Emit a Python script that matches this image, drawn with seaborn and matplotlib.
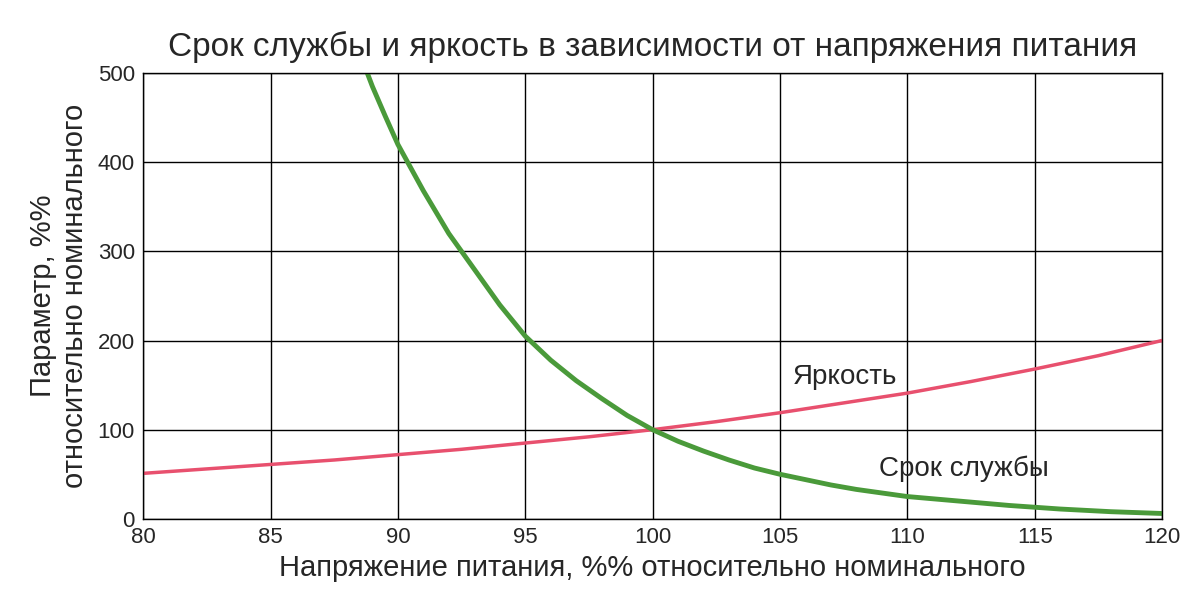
import matplotlib
matplotlib.use("Agg")
import matplotlib.pyplot as plt
import seaborn as sns

# Brightness vs supply voltage
bright_v = [80, 82.5, 85, 87.5, 90, 92.5, 95, 97.5, 100, 102.5, 105, 107.5, 110, 112.5, 115, 117.5, 120]
bright_p = [51, 56, 61, 66, 72, 78, 85, 92, 100, 109, 119, 130, 141, 154, 168, 183, 200]

# Service life vs supply voltage
life_v = [88.8, 89, 89.5, 90, 90.5, 91, 91.5, 92, 92.5, 93, 94, 95, 96, 97, 98, 99, 100, 101, 102, 103, 104, 105,
          106, 107, 108, 109, 110, 112, 114, 116, 118, 120]
life_p = [500, 485, 452, 420, 394, 368, 344, 320, 300, 280, 240, 205, 178, 155, 135, 116, 100, 87, 76, 66, 57, 50,
          44, 38, 33, 29, 25, 20, 15, 11, 8, 6]

sns.set_style("white")
plt.rcParams['font.family'] = ['Liberation Sans', 'DejaVu Sans']

fig = plt.figure(figsize=(11.93, 6.14), dpi=100)
ax = fig.add_axes([0.12, 0.155, 0.854, 0.726])

sns.lineplot(x=bright_v, y=bright_p, ax=ax, color="#e8506e", linewidth=2.5)
sns.lineplot(x=life_v, y=life_p, ax=ax, color="#4a9a3a", linewidth=3.5)

ax.set_xlim(80, 120)
ax.set_ylim(0, 500)
ax.set_xticks(range(80, 121, 5))
ax.set_yticks(range(0, 501, 100))
ax.grid(True, color="black", linewidth=1)
ax.set_axisbelow(True)
for s in ax.spines.values():
    s.set_color("black")
    s.set_linewidth(1)
ax.tick_params(labelsize=16, length=0, pad=6)

ax.text(105.5, 159, "Яркость", fontsize=20, va="center")
ax.text(108.9, 56, "Срок службы", fontsize=20, va="center")

ax.set_title("Срок службы и яркость в зависимости от напряжения питания", fontsize=24, pad=12)
ax.set_xlabel("Напряжение питания, %% относительно номинального", fontsize=21, labelpad=4)
ax.set_ylabel("Параметр, %%\nотносительно номинального", fontsize=21, labelpad=6)

fig.savefig("out.png", dpi=100)
